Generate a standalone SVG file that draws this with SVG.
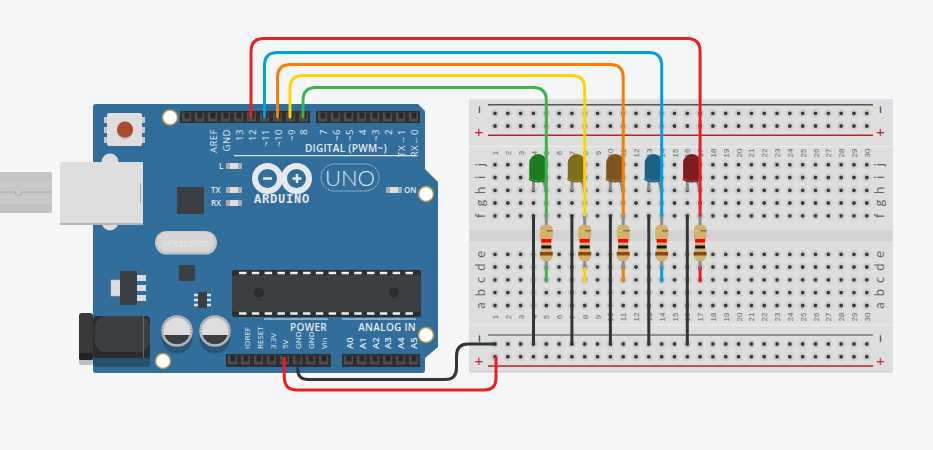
<svg xmlns="http://www.w3.org/2000/svg" width="933" height="450" viewBox="0 0 933 450">
<style>
text{font-family:"Open Sans","Liberation Sans",sans-serif}
.w{fill:none;stroke-width:3;stroke-linecap:round;stroke-linejoin:round}
.k{stroke:#333638}.r{stroke:#e8201f}.b{stroke:#00a0dc}.o{stroke:#f57f00}.y{stroke:#ffd500}.g{stroke:#3db54a}
.halo{fill:none;stroke:#cfcfcf;stroke-width:8.500;stroke-linecap:round;stroke-dasharray:0 12.82}
.hole{fill:none;stroke:#3a3a3a;stroke-width:3.800;stroke-linecap:round;stroke-dasharray:0 12.82}
.n{font:8px "Liberation Sans",sans-serif;fill:#666;text-anchor:middle;opacity:.99}
.l{font-size:13px;fill:#666;text-anchor:middle;opacity:.99;font-family:Lato,sans-serif}
.m{font:14px "Liberation Sans",sans-serif;fill:#333;text-anchor:middle;opacity:.99}
.p{font:15px "Liberation Sans",sans-serif;fill:#c8222a;text-anchor:middle}
.t{font-size:9.500px;fill:#e4eaef;font-weight:400;letter-spacing:.5px;text-anchor:end;opacity:.99}
.s{font-size:8px;fill:#e4eaef;font-weight:400;opacity:.99}
.a{font-size:9.500px;fill:#e4eaef;font-weight:600;opacity:.99}
.h{font-size:10px;fill:#e4eaef;font-weight:600;letter-spacing:.3px;text-anchor:end}
.tiny{font-size:8px;fill:#e4eaef;font-weight:600}
.smd{fill:#ddd}.smde{fill:#aaa}
.mnt{fill:#fff;stroke:#b39b4f;stroke-width:1.500}
.leg{fill:none;stroke:#8c8c8c;stroke-width:3}
.body{fill:#d4b06e}
</style>
<defs>
<pattern id="pins" width="13" height="13" patternUnits="userSpaceOnUse">
<rect width="13" height="13" fill="#2f2f2f"/>
<rect x="2" y="1.500" width="9" height="9" fill="#4d4d4d"/>
<path d="M4.500 1.500H9.500V7.500H4.500Z" fill="#292929"/>
</pattern>
<g id="resistor">
<path class="leg" d="M0 -10V0M0 36V45"/>
<path class="body" d="M-3.500 0H3.500Q6.500 1 6.500 6V11Q6.500 14 5 16V24Q6.500 26 6.500 29V31Q6.500 33 3.500 36H-3.500Q-6.500 33 -6.500 31V29Q-6.500 26 -5 24V16Q-6.500 14 -6.500 11V6Q-6.500 1 -3.500 0Z"/>
<rect x="-6.500" y="5" width="6.500" height="1.500" fill="#d9c84a"/>
<rect x="0" y="5" width="6.500" height="1.500" fill="#8a7440"/>
<rect x="-5" y="14" width="10" height="3.500" fill="#f00"/>
<rect x="-5" y="20.500" width="10" height="3" fill="#111"/>
<rect x="-6.500" y="27" width="13" height="3.500" fill="#8a4a12"/>
</g>
</defs>
<rect width="933" height="450" fill="#f4f6f8"/>

<g id="usb-cable">
<rect x="-4" y="172" width="56" height="41" rx="2" fill="#c4c4c4"/>
<rect x="-4" y="181" width="56" height="23" fill="#c9c9c9"/>
<path d="M-4 192H15L16 195H21L22 192H52" fill="none" stroke="#a8a8a8" stroke-width="1"/>
</g>

<g id="arduino">
<path d="M96 104H418L425 111V169L438 182V347L425 358V370Q425 373 422 373H96Q93 373 93 370V107Q93 104 96 104Z" fill="#316e9b"/>
<circle cx="110" cy="162" r="8.500" fill="#ddd"/>
<circle cx="110" cy="222" r="8.500" fill="#ddd"/>
<rect x="60" y="164" width="83" height="61" fill="#b5b5b5"/>
<rect x="60" y="162" width="83" height="61" rx="1" fill="#dedede"/>
<rect x="140" y="183" width="1" height="20" fill="#aaa"/>
<rect x="104" y="117" width="4" height="6" fill="#c8c8c8"/><rect x="104" y="127" width="4" height="6" fill="#c8c8c8"/><rect x="104" y="137" width="4" height="6" fill="#c8c8c8"/>
<rect x="141" y="117" width="4" height="6" fill="#c8c8c8"/><rect x="141" y="127" width="4" height="6" fill="#c8c8c8"/><rect x="141" y="137" width="4" height="6" fill="#c8c8c8"/>
<rect x="107" y="113" width="35" height="33" rx="2" fill="#dedede"/>
<circle cx="125" cy="131" r="8" fill="#b8b8b8"/>
<circle cx="125" cy="129.500" r="8" fill="#a94a32"/>
<circle class="mnt" cx="170" cy="117.500" r="7.500"/>
<circle class="mnt" cx="426" cy="194" r="7.500"/>
<circle class="mnt" cx="426" cy="335" r="7.500"/>
<circle class="mnt" cx="163" cy="361" r="7.500"/>

<g transform="translate(180,111)"><rect width="130" height="12" fill="url(#pins)"/></g>
<g transform="translate(316,111)"><rect width="104" height="12" fill="url(#pins)"/></g>
<g transform="translate(226,354)"><rect width="105" height="13" fill="url(#pins)"/></g>
<g transform="translate(342,354)"><rect width="78" height="13" fill="url(#pins)"/></g>

<text class="t" transform="translate(217,129)rotate(-90)">AREF</text>
<text class="t" transform="translate(230,129)rotate(-90)">GND</text>
<text class="t" transform="translate(243,129)rotate(-90)">13</text>
<text class="t" transform="translate(256,129)rotate(-90)">12</text>
<text class="t" transform="translate(269,129)rotate(-90)">~11</text>
<text class="t" transform="translate(282,129)rotate(-90)">~10</text>
<text class="t" transform="translate(295,129)rotate(-90)">~9</text>
<text class="t" transform="translate(307,129)rotate(-90)">8</text>
<text class="t" transform="translate(327,129)rotate(-90)">7</text>
<text class="t" transform="translate(340,129)rotate(-90)">~6</text>
<text class="t" transform="translate(353,129)rotate(-90)">~5</text>
<text class="t" transform="translate(366,129)rotate(-90)">4</text>
<text class="t" transform="translate(379,129)rotate(-90)">~3</text>
<text class="t" transform="translate(392,129)rotate(-90)">2</text>
<text class="t" transform="translate(405,129)rotate(-90)">TX→1</text>
<text class="t" transform="translate(418,129)rotate(-90)">RX←0</text>
<text class="h" x="387" y="152">DIGITAL (PWM~)</text>
<path d="M234 155.700H416M264 319H328M342 319H416" stroke="#dfe6ec" stroke-width="1.200" fill="none"/>
<text class="h" x="327" y="330.500">POWER</text>
<text class="h" x="416" y="330.500">ANALOG IN</text>
<text class="s" transform="translate(250,349)rotate(-90)">IOREF</text>
<text class="s" transform="translate(263,349)rotate(-90)">RESET</text>
<text class="s" transform="translate(276,349)rotate(-90)">3.3V</text>
<text class="s" transform="translate(288,349)rotate(-90)">5V</text>
<text class="s" transform="translate(301,349)rotate(-90)">GND</text>
<text class="s" transform="translate(314,349)rotate(-90)">GND</text>
<text class="s" transform="translate(327,349)rotate(-90)">Vin</text>
<text class="a" transform="translate(352.500,349)rotate(-90)">A0</text>
<text class="a" transform="translate(365.500,349)rotate(-90)">A1</text>
<text class="a" transform="translate(378.500,349)rotate(-90)">A2</text>
<text class="a" transform="translate(391,349)rotate(-90)">A3</text>
<text class="a" transform="translate(404,349)rotate(-90)">A4</text>
<text class="a" transform="translate(416.500,349)rotate(-90)">A5</text>

<text class="tiny" x="219" y="169">L</text>
<text class="tiny" x="211" y="193">TX</text>
<text class="tiny" x="211" y="206">RX</text>
<text class="tiny" x="404" y="193">ON</text>
<rect class="smde" x="226" y="163" width="16" height="6"/><rect class="smd" x="230" y="163" width="8" height="6"/>
<rect class="smde" x="226" y="187" width="16" height="6"/><rect class="smd" x="230" y="187" width="8" height="6"/>
<rect class="smde" x="226" y="200" width="16" height="6"/><rect class="smd" x="230" y="200" width="8" height="6"/>
<rect class="smde" x="386" y="187" width="16" height="6"/><rect class="smd" x="390" y="187" width="8" height="6"/>

<rect x="177" y="187" width="27" height="27" rx="1" fill="#3c3f42"/>

<g fill="none" stroke="#e6e8ea" stroke-width="6"><circle cx="267.500" cy="178.500" r="12.500"/><circle cx="296.500" cy="178.500" r="12.500"/></g>
<path d="M263 178.500H272M292.500 178.500H301.500M297 174V183" stroke="#e6e8ea" stroke-width="2.500" fill="none"/>
<text x="282" y="203" text-anchor="middle" font-size="12" font-weight="700" letter-spacing=".8" fill="#e6e8ea" style="font-family:'Liberation Mono',monospace">ARDUINO</text>
<rect x="321" y="164" width="58" height="27" rx="13.500" fill="none" stroke="#dfe6ec" stroke-width="1" stroke-dasharray="1 1"/>
<text x="350" y="186" text-anchor="middle" font-size="22" font-weight="300" fill="#e6e8ea" style="font-family:Lato,sans-serif">UNO</text>

<rect x="155" y="231" width="62" height="23.500" rx="11.500" fill="#c4c4c4"/>
<rect x="157" y="231.500" width="58" height="20.500" rx="10" fill="#d6d6d6"/>
<text x="186" y="245.500" text-anchor="middle" font-size="8" fill="#e8e8e8" style="font-family:'Liberation Sans',sans-serif">SPK16.000G</text>

<rect x="111" y="280" width="10" height="16" fill="#ddd" stroke="#bbb" stroke-width=".5"/>
<rect x="136" y="275" width="10" height="6" fill="#ddd"/><rect x="136" y="285" width="10" height="6" fill="#ddd"/><rect x="136" y="295" width="10" height="6" fill="#ddd"/>
<rect x="120" y="271" width="17" height="34" rx="1" fill="#3c3f42"/>
<rect x="179" y="265" width="16" height="16" rx="1" fill="#3c3f42"/>
<path d="M194 295H211M194 300H211M194 305H211" stroke="#ddd" stroke-width="2.500" fill="none"/>
<rect x="198" y="292" width="9" height="16" rx="1" fill="#3c3f42"/>

<rect x="232" y="270" width="189" height="47" rx="2" fill="#2c2e30"/>
<rect x="232" y="275" width="189" height="37" rx="3" fill="#3c3f42"/>
<path d="M239 273H417M239 313.500H417" stroke="#eee" stroke-width="2.500" stroke-dasharray="7.500 5.300" fill="none"/>
<circle cx="259" cy="292.500" r="5" fill="#2a2c2e"/>
<circle cx="394" cy="292.500" r="5" fill="#2a2c2e"/>

<rect x="93" y="330" width="57" height="37" rx="3" fill="#26506f"/>
<rect x="79" y="318" width="14" height="47" rx="2" fill="#bdbdbd"/>
<rect x="93" y="316" width="57" height="42" rx="4" fill="#2a2c2e"/>
<rect x="95" y="316" width="55" height="36" rx="11" fill="#3c3f42"/>
<rect x="143" y="316" width="1" height="42" fill="#666"/>
<rect x="79" y="313" width="14" height="47" rx="3" fill="#36383a"/>
<rect x="79" y="353" width="14" height="7" rx="2" fill="#222"/>

<circle cx="177" cy="338" r="15.500" fill="#28557a"/>
<circle cx="215" cy="338" r="15.500" fill="#28557a"/>
<circle cx="177" cy="331" r="14.500" fill="#ddd" stroke="#b5b5b5" stroke-width="2.500"/>
<circle cx="215" cy="331" r="14.500" fill="#ddd" stroke="#b5b5b5" stroke-width="2.500"/>
<path d="M164.300 335H189.700A13.300 13.300 0 0 1 164.300 335Z" fill="#3c3f42"/>
<path d="M202.300 335H227.700A13.300 13.300 0 0 1 202.300 335Z" fill="#3c3f42"/>
</g>

<g id="breadboard">
<rect x="469" y="99" width="424" height="273.500" rx="3" fill="#cfcfcf"/>
<rect x="469" y="99" width="424" height="272" rx="3" fill="#dedede"/>
<rect x="469" y="230" width="424" height="11" fill="#d3d3d3"/>
<path d="M469 146.500H893M469 325H893" stroke="#ececec" stroke-width="1"/>
<path d="M488 104.700H873" stroke="#555" stroke-width="1.500"/>
<path d="M488 135.300H873" stroke="#c81e1e" stroke-width="1.500"/>
<path d="M488 335H873" stroke="#444" stroke-width="1.200"/>
<path d="M488 366H873" stroke="#c9504f" stroke-width="2"/>
<g class="halo">
<path d="M495 113.300H867M495 126H867M495 164.700H867M495 177.500H867M495 190.300H867M495 203H867M495 215.800H867M495 254.300H867M495 267H867M495 279.800H867M495 292.600H867M495 305.500H867M495 344H867M495 356.700H867"/>
</g>
<g class="hole">
<path d="M495 113.300H867M495 126H867M495 164.700H867M495 177.500H867M495 190.300H867M495 203H867M495 215.800H867M495 254.300H867M495 267H867M495 279.800H867M495 292.600H867M495 305.500H867M495 344H867M495 356.700H867"/>
</g>
<text class="m" transform="translate(483.500,110)rotate(-90)">−</text>
<text class="m" transform="translate(885,110)rotate(-90)">−</text>
<text class="m" transform="translate(483.500,339)rotate(-90)">−</text>
<text class="m" transform="translate(885,339)rotate(-90)">−</text>
<text class="p" x="479" y="137">+</text>
<text class="p" x="880.500" y="137">+</text>
<text class="p" x="479" y="366">+</text>
<text class="p" x="880.500" y="366">+</text>
<text class="l" transform="translate(485,164.700)rotate(-90)">j</text>
<text class="l" transform="translate(485,177.500)rotate(-90)">i</text>
<text class="l" transform="translate(485,190.300)rotate(-90)">h</text>
<text class="l" transform="translate(485,203)rotate(-90)">g</text>
<text class="l" transform="translate(485,215.800)rotate(-90)">f</text>
<text class="l" transform="translate(485,254.300)rotate(-90)">e</text>
<text class="l" transform="translate(485,267)rotate(-90)">d</text>
<text class="l" transform="translate(485,279.800)rotate(-90)">c</text>
<text class="l" transform="translate(485,292.600)rotate(-90)">b</text>
<text class="l" transform="translate(485,305.500)rotate(-90)">a</text>
<text class="l" transform="translate(884,164.700)rotate(-90)">j</text>
<text class="l" transform="translate(884,177.500)rotate(-90)">i</text>
<text class="l" transform="translate(884,190.300)rotate(-90)">h</text>
<text class="l" transform="translate(884,203)rotate(-90)">g</text>
<text class="l" transform="translate(884,215.800)rotate(-90)">f</text>
<text class="l" transform="translate(884,254.300)rotate(-90)">e</text>
<text class="l" transform="translate(884,267)rotate(-90)">d</text>
<text class="l" transform="translate(884,279.800)rotate(-90)">c</text>
<text class="l" transform="translate(884,292.600)rotate(-90)">b</text>
<text class="l" transform="translate(884,305.500)rotate(-90)">a</text>
<g id="top-numbers">
<text class="n" transform="translate(498,153)rotate(-90)">1</text>
<text class="n" transform="translate(510.800,153)rotate(-90)">2</text>
<text class="n" transform="translate(523.600,153)rotate(-90)">3</text>
<text class="n" transform="translate(536.500,153)rotate(-90)">4</text>
<text class="n" transform="translate(549.300,153)rotate(-90)">5</text>
<text class="n" transform="translate(562.100,153)rotate(-90)">6</text>
<text class="n" transform="translate(574.900,153)rotate(-90)">7</text>
<text class="n" transform="translate(587.700,153)rotate(-90)">8</text>
<text class="n" transform="translate(600.600,153)rotate(-90)">9</text>
<text class="n" transform="translate(613.400,153)rotate(-90)">10</text>
<text class="n" transform="translate(626.200,153)rotate(-90)">11</text>
<text class="n" transform="translate(639,153)rotate(-90)">12</text>
<text class="n" transform="translate(651.800,153)rotate(-90)">13</text>
<text class="n" transform="translate(664.700,153)rotate(-90)">14</text>
<text class="n" transform="translate(677.500,153)rotate(-90)">15</text>
<text class="n" transform="translate(690.300,153)rotate(-90)">16</text>
<text class="n" transform="translate(703.100,153)rotate(-90)">17</text>
<text class="n" transform="translate(715.900,153)rotate(-90)">18</text>
<text class="n" transform="translate(728.800,153)rotate(-90)">19</text>
<text class="n" transform="translate(741.600,153)rotate(-90)">20</text>
<text class="n" transform="translate(754.400,153)rotate(-90)">21</text>
<text class="n" transform="translate(767.200,153)rotate(-90)">22</text>
<text class="n" transform="translate(780,153)rotate(-90)">23</text>
<text class="n" transform="translate(792.900,153)rotate(-90)">24</text>
<text class="n" transform="translate(805.700,153)rotate(-90)">25</text>
<text class="n" transform="translate(818.500,153)rotate(-90)">26</text>
<text class="n" transform="translate(831.300,153)rotate(-90)">27</text>
<text class="n" transform="translate(844.100,153)rotate(-90)">28</text>
<text class="n" transform="translate(857,153)rotate(-90)">29</text>
<text class="n" transform="translate(869.800,153)rotate(-90)">30</text>
</g>
<g id="bottom-numbers">
<text class="n" transform="translate(498,317)rotate(-90)">1</text>
<text class="n" transform="translate(510.800,317)rotate(-90)">2</text>
<text class="n" transform="translate(523.600,317)rotate(-90)">3</text>
<text class="n" transform="translate(536.500,317)rotate(-90)">4</text>
<text class="n" transform="translate(549.300,317)rotate(-90)">5</text>
<text class="n" transform="translate(562.100,317)rotate(-90)">6</text>
<text class="n" transform="translate(574.900,317)rotate(-90)">7</text>
<text class="n" transform="translate(587.700,317)rotate(-90)">8</text>
<text class="n" transform="translate(600.600,317)rotate(-90)">9</text>
<text class="n" transform="translate(613.400,317)rotate(-90)">10</text>
<text class="n" transform="translate(626.200,317)rotate(-90)">11</text>
<text class="n" transform="translate(639,317)rotate(-90)">12</text>
<text class="n" transform="translate(651.800,317)rotate(-90)">13</text>
<text class="n" transform="translate(664.700,317)rotate(-90)">14</text>
<text class="n" transform="translate(677.500,317)rotate(-90)">15</text>
<text class="n" transform="translate(690.300,317)rotate(-90)">16</text>
<text class="n" transform="translate(703.100,317)rotate(-90)">17</text>
<text class="n" transform="translate(715.900,317)rotate(-90)">18</text>
<text class="n" transform="translate(728.800,317)rotate(-90)">19</text>
<text class="n" transform="translate(741.600,317)rotate(-90)">20</text>
<text class="n" transform="translate(754.400,317)rotate(-90)">21</text>
<text class="n" transform="translate(767.200,317)rotate(-90)">22</text>
<text class="n" transform="translate(780,317)rotate(-90)">23</text>
<text class="n" transform="translate(792.900,317)rotate(-90)">24</text>
<text class="n" transform="translate(805.700,317)rotate(-90)">25</text>
<text class="n" transform="translate(818.500,317)rotate(-90)">26</text>
<text class="n" transform="translate(831.300,317)rotate(-90)">27</text>
<text class="n" transform="translate(844.100,317)rotate(-90)">28</text>
<text class="n" transform="translate(857,317)rotate(-90)">29</text>
<text class="n" transform="translate(869.800,317)rotate(-90)">30</text>
</g>
</g>

<g id="led-green"><path class="leg" d="M533.500 180V191M543 180L546.800 191"/><path d="M529.300 178V163A9 9 0 0 1 547.300 163V178L548 180Q538.300 185 528.700 180Z" fill="#1e7b22"/><path d="M529 178.500Q538.300 183 547.600 178.500" fill="none" stroke="#3f9a44" stroke-width="1"/></g>
<g id="led-yellow"><path class="leg" d="M572 180V191M581.500 180L585.300 191"/><path d="M567.800 178V163A9 9 0 0 1 585.800 163V178L586.500 180Q576.800 185 567.200 180Z" fill="#7f6e1e"/><path d="M567.500 178.500Q576.800 183 586.100 178.500" fill="none" stroke="#9a8a40" stroke-width="1"/></g>
<g id="led-orange"><path class="leg" d="M610.400 180V191M619.900 180L623.700 191"/><path d="M606.200 178V163A9 9 0 0 1 624.200 163V178L624.900 180Q615.200 185 605.600 180Z" fill="#7e551e"/><path d="M605.900 178.500Q615.200 183 624.500 178.500" fill="none" stroke="#9a7440" stroke-width="1"/></g>
<g id="led-blue"><path class="leg" d="M648.800 180V191M658.300 180L662.100 191"/><path d="M644.700 178V163A9 9 0 0 1 662.700 163V178L663.400 180Q653.700 185 644.100 180Z" fill="#1d6085"/><path d="M644.400 178.500Q653.700 183 663 178.500" fill="none" stroke="#3f80a3" stroke-width="1"/></g>
<g id="led-red"><path class="leg" d="M687.300 180V191M696.800 180L700.600 191"/><path d="M683.100 178V163A9 9 0 0 1 701.100 163V178L701.800 180Q692.100 185 682.500 180Z" fill="#7c1e20"/><path d="M682.800 178.500Q692.100 183 701.400 178.500" fill="none" stroke="#9a4244" stroke-width="1"/></g>

<g id="resistor-1"><use href="#resistor" x="546.300" y="225"/></g>
<g id="resistor-2"><use href="#resistor" x="584.700" y="225"/></g>
<g id="resistor-3"><use href="#resistor" x="623.200" y="225"/></g>
<g id="resistor-4"><use href="#resistor" x="661.700" y="225"/></g>
<g id="resistor-5"><use href="#resistor" x="700.100" y="225"/></g>

<g id="connectors">
<path class="w k" d="M533.500 215.800V344M571.900 215.800V344M610.400 215.800V344M648.800 215.800V344M687.300 215.800V344"/>
<path class="w g" d="M546.300 268.500V281"/>
<path class="w y" d="M584.700 268.500V281"/>
<path class="w o" d="M623.200 268.500V281"/>
<path class="w b" d="M661.700 268.500V281"/>
<path class="w r" d="M700.100 268.500V281"/>
<path class="w r" d="M251 117V51.500Q251 38.500 264 38.500H687.100Q700.100 38.500 700.100 51.500V215"/>
<path class="w b" d="M264.500 117V65.500Q264.500 52.500 277.500 52.500H648.700Q661.700 52.500 661.700 65.500V215"/>
<path class="w o" d="M277.500 117V77.500Q277.500 64.500 290.500 64.500H610.200Q623.200 64.500 623.200 77.500V215"/>
<path class="w y" d="M290 117V88.500Q290 75.500 303 75.500H571.700Q584.700 75.500 584.700 88.500V215"/>
<path class="w g" d="M303 117V100.500Q303 87.500 316 87.500H533.300Q546.300 87.500 546.300 100.500V215"/>
<path class="w k" d="M297.700 358V369Q297.700 379.500 308 379.500H445Q456.500 379.500 456.500 368V356Q456.500 344 468 344H495"/>
<path class="w r" d="M284.300 358V377Q284.300 390 297 390H484Q496 390 496 378V357"/>
</g>
</svg>
